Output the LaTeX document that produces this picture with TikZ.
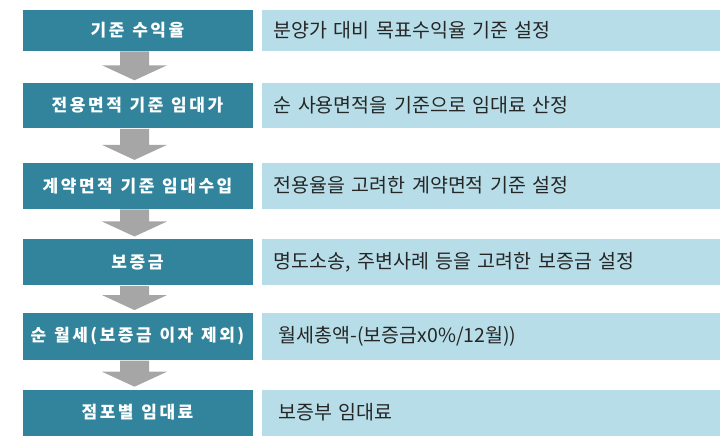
\documentclass[tikz,border=0pt]{standalone}
\usepackage{fontspec}
\newfontfamily\krfont{Noto Sans CJK KR}[WordSpace=1.6]
\newfontfamily\krstepfont{Noto Sans CJK KR}[LetterSpace=15, WordSpace=1.2]
\usetikzlibrary{positioning, calc}
\definecolor{stepteal}{HTML}{31849B}
\definecolor{notelight}{HTML}{B7DEE8}
\definecolor{arrowgray}{HTML}{A6A6A6}
\definecolor{notetext}{HTML}{262626}
\tikzset{stepbox/.style={fill=stepteal, draw=white, line width=0.6pt, text=white, minimum width=231pt, inner sep=0pt, align=center, font=\krstepfont\bfseries\fontsize{17}{20}\selectfont}}
\tikzset{notebox/.style={fill=notelight, draw=white, line width=0.6pt, text=notetext, text width=435pt, inner xsep=12pt, inner ysep=0pt, align=left, font=\krfont\fontsize{19.5}{22}\selectfont}}
\tikzset{notefar/.style={inner xsep=17pt, text width=425pt}}
\newcommand{\stepflow}[2]{%
  \fill[arrowgray] ($(#1.south)+(-17.5,0)$) -- ($(#1.south)+(11.5,0)$)
    -- ($(#2.north)+(11.5,17)$) -- ($(#2.north)+(29.5,17)$)
    -- ($(#2.north)+(-3,2)$)
    -- ($(#2.north)+(-35.5,17)$) -- ($(#2.north)+(-17.5,17)$) -- cycle;}

\begin{document}
\begin{tikzpicture}[x=1pt, y=1pt]
  \useasboundingbox (0,0) rectangle (720,443);

  \node[stepbox, minimum height=42pt] (s1) at (137.5,413) {기준 수익율};
  \node[notebox, minimum height=42pt] (n1) [right=8pt of s1] {분양가 대비 목표수익율 기준 설정};

  \node[stepbox, minimum height=46pt] (s2) [below=31pt of s1] {전용면적 기준 임대가};
  \node[notebox, minimum height=46pt] (n2) [right=8pt of s2] {순 사용면적을 기준으로 임대료 산정};

  \node[stepbox, minimum height=47pt] (s3) [below=33pt of s2] {계약면적 기준 임대수입};
  \node[notebox, minimum height=47pt] (n3) [right=8pt of s3] {전용율을 고려한 계약면적 기준 설정};

  \node[stepbox, minimum height=47pt] (s4) [below=29pt of s3] {보증금};
  \node[notebox, minimum height=47pt] (n4) [right=8pt of s4] {명도소송, 주변사례 등을 고려한 보증금 설정};

  \node[stepbox, minimum height=48pt] (s5) [below=26pt of s4] {순 월세(보증금 이자 제외)};
  \node[notebox, notefar, minimum height=48pt] (n5) [right=8pt of s5] {월세총액-(보증금x0\%/12월))};

  \node[stepbox, minimum height=47pt] (s6) [below=28pt of s5] {점포별 임대료};
  \node[notebox, notefar, minimum height=47pt] (n6) [right=8pt of s6] {보증부 임대료};

  \stepflow{s1}{s2}
  \stepflow{s2}{s3}
  \stepflow{s3}{s4}
  \stepflow{s4}{s5}
  \stepflow{s5}{s6}

\end{tikzpicture}
\end{document}
